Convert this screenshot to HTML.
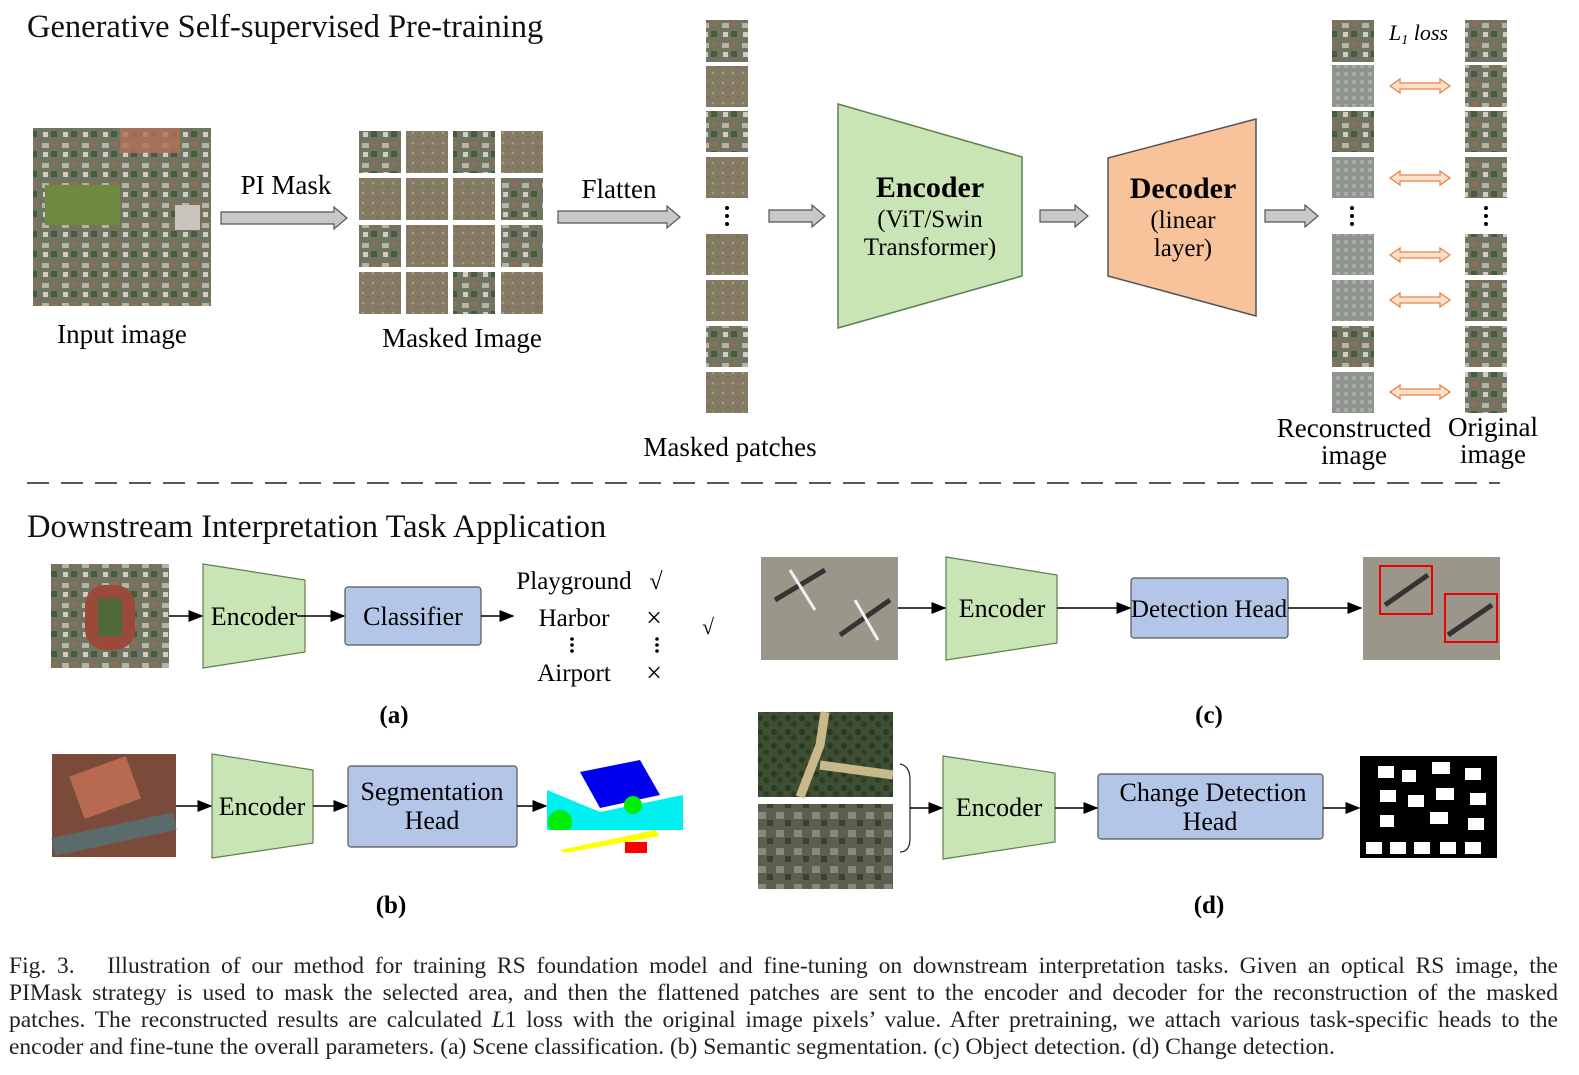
<!DOCTYPE html>
<html><head><meta charset="utf-8">
<style>
html,body{margin:0;padding:0;background:#fff;}
body{width:1579px;height:1075px;position:relative;overflow:hidden;font-family:"Liberation Serif",serif;}
svg{position:absolute;left:0;top:0;}
.cap{position:absolute;left:9px;width:1549px;font-size:23.5px;color:#222;line-height:27px;}
.cap div{text-align:justify;text-align-last:justify;white-space:nowrap;}
.cap div.last{text-align-last:left;}
</style></head><body>
<svg width="1579" height="1075" viewBox="0 0 1579 1075" font-family="Liberation Serif, serif">
<defs>
<marker id="ah" markerWidth="10" markerHeight="8" refX="9" refY="4" orient="auto"><path d="M0,0 L10,4 L0,8 z" fill="#000"/></marker>
<pattern id="urb" width="20" height="20" patternUnits="userSpaceOnUse">
<rect width="20" height="20" fill="#6f7560"/><rect x="2" y="3" width="7" height="5" fill="#b9b3a6"/><rect x="11" y="11" width="6" height="6" fill="#4a5a3e"/><rect x="12" y="2" width="5" height="4" fill="#9a6a50"/><rect x="3" y="12" width="5" height="5" fill="#d0ccc4"/></pattern>
<pattern id="dirt" width="10" height="10" patternUnits="userSpaceOnUse">
<rect width="10" height="10" fill="#857a64"/><circle cx="3" cy="3" r="1.2" fill="#a99d85"/><circle cx="8" cy="7" r="1" fill="#6e6552"/></pattern>
<pattern id="rec" width="8" height="8" patternUnits="userSpaceOnUse">
<rect width="8" height="8" fill="#8f948e"/><rect width="4" height="4" fill="#a7aba6"/></pattern>
<pattern id="forest" width="14" height="14" patternUnits="userSpaceOnUse">
<rect width="14" height="14" fill="#3e4f33"/><circle cx="4" cy="4" r="3" fill="#2a3a22"/><circle cx="10" cy="10" r="3" fill="#2e3f26"/></pattern>
<pattern id="houses" width="18" height="18" patternUnits="userSpaceOnUse">
<rect width="18" height="18" fill="#5a5f4e"/><rect x="2" y="2" width="8" height="7" fill="#8a877c"/><rect x="11" y="10" width="6" height="6" fill="#3a4130"/></pattern>
</defs>

<text x="27" y="37" font-size="32.5" fill="#111">Generative Self-supervised Pre-training</text>

<rect x="33" y="128" width="178" height="178" fill="url(#urb)"/>
<rect x="45" y="185" width="75" height="40" fill="#6d8a3e"/>
<rect x="120" y="128" width="60" height="25" fill="#b07258" opacity="0.8"/>
<rect x="175" y="205" width="25" height="25" fill="#c9c4bb"/>
<text x="122" y="343" font-size="27" text-anchor="middle">Input image</text>

<text x="286" y="194" font-size="27" text-anchor="middle">PI Mask</text>
<polygon points="221,212 334,212 334,207 347,218 334,229 334,224 221,224" fill="#c8c8c8" stroke="#555" stroke-width="1.2"/>

<g>
<rect x="359" y="131" width="42" height="42" fill="url(#urb)"/><rect x="406" y="131" width="42" height="42" fill="url(#dirt)"/><rect x="453" y="131" width="42" height="42" fill="url(#urb)"/><rect x="501" y="131" width="42" height="42" fill="url(#dirt)"/>
<rect x="359" y="178" width="42" height="42" fill="url(#dirt)"/><rect x="406" y="178" width="42" height="42" fill="url(#dirt)"/><rect x="453" y="178" width="42" height="42" fill="url(#dirt)"/><rect x="501" y="178" width="42" height="42" fill="url(#urb)"/>
<rect x="359" y="225" width="42" height="42" fill="url(#urb)"/><rect x="406" y="225" width="42" height="42" fill="url(#dirt)"/><rect x="453" y="225" width="42" height="42" fill="url(#dirt)"/><rect x="501" y="225" width="42" height="42" fill="url(#urb)"/>
<rect x="359" y="272" width="42" height="42" fill="url(#dirt)"/><rect x="406" y="272" width="42" height="42" fill="url(#dirt)"/><rect x="453" y="272" width="42" height="42" fill="url(#urb)"/><rect x="501" y="272" width="42" height="42" fill="url(#dirt)"/>
</g>
<text x="462" y="347" font-size="27" text-anchor="middle">Masked Image</text>

<text x="619" y="198" font-size="27" text-anchor="middle">Flatten</text>
<polygon points="558,211 667,211 667,206 680,217 667,228 667,223 558,223" fill="#c8c8c8" stroke="#555" stroke-width="1.2"/>

<rect x="706" y="20" width="42" height="42" fill="url(#urb)"/>
<rect x="706" y="66" width="42" height="41" fill="url(#dirt)"/>
<rect x="706" y="111" width="42" height="41" fill="url(#urb)"/>
<rect x="706" y="157" width="42" height="41" fill="url(#dirt)"/>
<circle cx="727" cy="208" r="2" fill="#000"/><circle cx="727" cy="216" r="2" fill="#000"/><circle cx="727" cy="224" r="2" fill="#000"/>
<rect x="706" y="234" width="42" height="41" fill="url(#dirt)"/>
<rect x="706" y="280" width="42" height="41" fill="url(#dirt)"/>
<rect x="706" y="326" width="42" height="41" fill="url(#urb)"/>
<rect x="706" y="372" width="42" height="41" fill="url(#dirt)"/>
<text x="730" y="456" font-size="27" text-anchor="middle">Masked patches</text>

<polygon points="769,210 812,210 812,205 825,216 812,227 812,222 769,222" fill="#c8c8c8" stroke="#555" stroke-width="1.2"/>

<polygon points="838,104 1022,157 1022,276 838,328" fill="#c9e4b5" stroke="#5f7f4f" stroke-width="1.5"/>
<text x="930" y="197" font-size="30" font-weight="bold" text-anchor="middle">Encoder</text>
<text x="930" y="227" font-size="25" text-anchor="middle">(ViT/Swin</text>
<text x="930" y="255" font-size="25" text-anchor="middle">Transformer)</text>

<polygon points="1040,210 1075,210 1075,205 1088,216 1075,227 1075,222 1040,222" fill="#c8c8c8" stroke="#555" stroke-width="1.2"/>

<polygon points="1108,158 1256,119 1256,316 1108,276" fill="#f8c29b" stroke="#555" stroke-width="1.5"/>
<text x="1183" y="198" font-size="30" font-weight="bold" text-anchor="middle">Decoder</text>
<text x="1183" y="228" font-size="25" text-anchor="middle">(linear</text>
<text x="1183" y="256" font-size="25" text-anchor="middle">layer)</text>

<polygon points="1265,210 1305,210 1305,205 1318,216 1305,227 1305,222 1265,222" fill="#c8c8c8" stroke="#555" stroke-width="1.2"/>

<g>
<rect x="1332" y="20" width="42" height="42" fill="url(#urb)"/><rect x="1332" y="65" width="42" height="42" fill="url(#rec)"/>
<rect x="1332" y="111" width="42" height="41" fill="url(#urb)"/><rect x="1332" y="157" width="42" height="41" fill="url(#rec)"/>
<rect x="1332" y="234" width="42" height="41" fill="url(#rec)"/><rect x="1332" y="280" width="42" height="41" fill="url(#rec)"/>
<rect x="1332" y="326" width="42" height="41" fill="url(#urb)"/><rect x="1332" y="372" width="42" height="41" fill="url(#rec)"/>
<circle cx="1352" cy="208" r="2" fill="#000"/><circle cx="1352" cy="216" r="2" fill="#000"/><circle cx="1352" cy="224" r="2" fill="#000"/>
<rect x="1465" y="20" width="42" height="42" fill="url(#urb)"/><rect x="1465" y="65" width="42" height="42" fill="url(#urb)"/>
<rect x="1465" y="111" width="42" height="41" fill="url(#urb)"/><rect x="1465" y="157" width="42" height="41" fill="url(#urb)"/>
<rect x="1465" y="234" width="42" height="41" fill="url(#urb)"/><rect x="1465" y="280" width="42" height="41" fill="url(#urb)"/>
<rect x="1465" y="326" width="42" height="41" fill="url(#urb)"/><rect x="1465" y="372" width="42" height="41" fill="url(#urb)"/>
<circle cx="1486" cy="208" r="2" fill="#000"/><circle cx="1486" cy="216" r="2" fill="#000"/><circle cx="1486" cy="224" r="2" fill="#000"/>
</g>
<text x="1389" y="40" font-size="22" font-style="italic">L<tspan font-size="14" dy="4">1</tspan><tspan dy="-4"> loss</tspan></text>
<g fill="#fde1c8" stroke="#e8834a" stroke-width="1.3">
<polygon points="1390,86 1400,79 1400,83 1440,83 1440,79 1450,86 1440,93 1440,89 1400,89 1400,93"/>
<polygon points="1390,178 1400,171 1400,175 1440,175 1440,171 1450,178 1440,185 1440,181 1400,181 1400,185"/>
<polygon points="1390,255 1400,248 1400,252 1440,252 1440,248 1450,255 1440,262 1440,258 1400,258 1400,262"/>
<polygon points="1390,300 1400,293 1400,297 1440,297 1440,293 1450,300 1440,307 1440,303 1400,303 1400,307"/>
<polygon points="1390,392 1400,385 1400,389 1440,389 1440,385 1450,392 1440,399 1440,395 1400,395 1400,399"/>
</g>
<text x="1354" y="437" font-size="27" text-anchor="middle">Reconstructed</text>
<text x="1354" y="464" font-size="27" text-anchor="middle">image</text>
<text x="1493" y="436" font-size="27" text-anchor="middle">Original</text>
<text x="1493" y="463" font-size="27" text-anchor="middle">image</text>

<line x1="27" y1="483" x2="1500" y2="483" stroke="#222" stroke-width="1.5" stroke-dasharray="22,12"/>

<text x="27" y="537" font-size="32.5" fill="#111">Downstream Interpretation Task Application</text>

<!-- (a) -->
<rect x="51" y="564" width="118" height="104" fill="url(#urb)"/>
<rect x="85" y="585" width="50" height="65" rx="20" fill="#9b4a3a"/><rect x="98" y="598" width="24" height="38" fill="#4f6a38"/>
<line x1="169" y1="616" x2="202" y2="616" stroke="#000" stroke-width="1.5" marker-end="url(#ah)"/>
<polygon points="203,564 305,580 305,652 203,668" fill="#c9e4b5" stroke="#5f7f4f" stroke-width="1.2"/>
<text x="254" y="625" font-size="26" text-anchor="middle">Encoder</text>
<line x1="297" y1="616" x2="344" y2="616" stroke="#000" stroke-width="1.5" marker-end="url(#ah)"/>
<rect x="345" y="587" width="136" height="58" rx="3" fill="#b4c6e7" stroke="#555" stroke-width="1.2"/>
<text x="413" y="625" font-size="26" text-anchor="middle">Classifier</text>
<line x1="481" y1="616" x2="513" y2="616" stroke="#000" stroke-width="1.5" marker-end="url(#ah)"/>
<text x="574" y="589" font-size="25" text-anchor="middle">Playground</text>
<text x="656" y="589" font-size="24" text-anchor="middle">√</text>
<text x="574" y="626" font-size="25" text-anchor="middle">Harbor</text>
<text x="654" y="627" font-size="28" text-anchor="middle">×</text>
<circle cx="572" cy="639" r="1.8"/><circle cx="572" cy="645" r="1.8"/><circle cx="572" cy="651" r="1.8"/>
<circle cx="657" cy="639" r="1.8"/><circle cx="657" cy="645" r="1.8"/><circle cx="657" cy="651" r="1.8"/>
<text x="574" y="681" font-size="25" text-anchor="middle">Airport</text>
<text x="654" y="682" font-size="28" text-anchor="middle">×</text>
<text x="708" y="634" font-size="22" text-anchor="middle">√</text>
<text x="394" y="723" font-size="25" font-weight="bold" text-anchor="middle">(a)</text>

<!-- (b) -->
<rect x="52" y="754" width="124" height="103" fill="#7a4a3a"/>
<rect x="75" y="765" width="60" height="45" fill="#b86a50" transform="rotate(-20 105 787)"/>
<rect x="52" y="825" width="124" height="18" fill="#5b6a6a" transform="rotate(-12 114 834)"/>
<line x1="176" y1="806" x2="211" y2="806" stroke="#000" stroke-width="1.5" marker-end="url(#ah)"/>
<polygon points="212,754 313,770 313,843 212,858" fill="#c9e4b5" stroke="#5f7f4f" stroke-width="1.2"/>
<text x="262" y="815" font-size="26" text-anchor="middle">Encoder</text>
<line x1="313" y1="806" x2="347" y2="806" stroke="#000" stroke-width="1.5" marker-end="url(#ah)"/>
<rect x="348" y="766" width="169" height="81" rx="3" fill="#b4c6e7" stroke="#555" stroke-width="1.2"/>
<text x="432" y="800" font-size="26" text-anchor="middle">Segmentation</text>
<text x="432" y="829" font-size="26" text-anchor="middle">Head</text>
<line x1="517" y1="806" x2="546" y2="806" stroke="#000" stroke-width="1.5" marker-end="url(#ah)"/>
<rect x="547" y="760" width="136" height="93" fill="#00f0f0"/>
<polygon points="575,760 683,760 683,795 600,812 547,790 547,760" fill="#fff"/>
<polygon points="580,772 640,760 660,795 600,808" fill="#0000ee"/>
<circle cx="560" cy="822" r="12" fill="#00ee00"/><circle cx="633" cy="805" r="9" fill="#00ee00"/>
<rect x="547" y="830" width="136" height="23" fill="#fff"/>
<polygon points="560,850 655,830 660,836 565,853" fill="#ffff00"/>
<rect x="625" y="842" width="22" height="11" fill="#ff0000"/>
<text x="391" y="913" font-size="25" font-weight="bold" text-anchor="middle">(b)</text>

<!-- (c) -->
<rect x="761" y="557" width="137" height="103" fill="#9a978a"/>
<g stroke="#333" stroke-width="5"><line x1="775" y1="600" x2="825" y2="570"/><line x1="840" y1="635" x2="890" y2="600"/></g>
<g stroke="#f0f0f0" stroke-width="3"><line x1="790" y1="570" x2="815" y2="610"/><line x1="855" y1="600" x2="878" y2="640"/></g>
<line x1="898" y1="608" x2="945" y2="608" stroke="#000" stroke-width="1.5" marker-end="url(#ah)"/>
<polygon points="946,557 1057,575 1057,643 946,660" fill="#c9e4b5" stroke="#5f7f4f" stroke-width="1.2"/>
<text x="1002" y="617" font-size="26" text-anchor="middle">Encoder</text>
<line x1="1057" y1="608" x2="1130" y2="608" stroke="#000" stroke-width="1.5" marker-end="url(#ah)"/>
<rect x="1131" y="578" width="157" height="60" rx="3" fill="#b4c6e7" stroke="#555" stroke-width="1.2"/>
<text x="1209" y="617" font-size="25" text-anchor="middle">Detection Head</text>
<line x1="1288" y1="608" x2="1361" y2="608" stroke="#000" stroke-width="1.5" marker-end="url(#ah)"/>
<rect x="1363" y="557" width="137" height="103" fill="#9a978a"/>
<g stroke="#333" stroke-width="5"><line x1="1385" y1="605" x2="1428" y2="575"/><line x1="1448" y1="635" x2="1492" y2="605"/></g>
<rect x="1380" y="566" width="52" height="48" fill="none" stroke="#e00" stroke-width="2"/>
<rect x="1445" y="594" width="52" height="48" fill="none" stroke="#e00" stroke-width="2"/>
<text x="1209" y="723" font-size="25" font-weight="bold" text-anchor="middle">(c)</text>

<!-- (d) -->
<rect x="758" y="712" width="135" height="85" fill="url(#forest)"/>
<path d="M800,797 L820,745 L825,712 M820,765 L893,775" stroke="#c9b98a" stroke-width="9" fill="none"/>
<rect x="758" y="804" width="135" height="85" fill="url(#houses)"/>
<path d="M900,764 Q910,766 910,780 L910,838 Q910,852 900,852" fill="none" stroke="#222" stroke-width="1.2"/>
<line x1="910" y1="808" x2="942" y2="808" stroke="#000" stroke-width="1.5" marker-end="url(#ah)"/>
<polygon points="943,756 1055,773 1055,842 943,859" fill="#c9e4b5" stroke="#5f7f4f" stroke-width="1.2"/>
<text x="999" y="816" font-size="26" text-anchor="middle">Encoder</text>
<line x1="1055" y1="808" x2="1097" y2="808" stroke="#000" stroke-width="1.5" marker-end="url(#ah)"/>
<rect x="1098" y="774" width="225" height="65" rx="3" fill="#b4c6e7" stroke="#555" stroke-width="1.2"/>
<text x="1213" y="801" font-size="26" text-anchor="middle">Change Detection</text>
<text x="1210" y="830" font-size="26" text-anchor="middle">Head</text>
<line x1="1323" y1="808" x2="1359" y2="808" stroke="#000" stroke-width="1.5" marker-end="url(#ah)"/>
<rect x="1360" y="756" width="137" height="102" fill="#000"/>
<g fill="#fff">
<rect x="1378" y="766" width="16" height="12"/><rect x="1402" y="770" width="14" height="12"/><rect x="1432" y="762" width="18" height="12"/><rect x="1465" y="768" width="16" height="12"/>
<rect x="1380" y="790" width="16" height="12"/><rect x="1408" y="795" width="16" height="12"/><rect x="1436" y="788" width="18" height="12"/><rect x="1470" y="793" width="16" height="12"/>
<rect x="1380" y="815" width="14" height="12"/><rect x="1430" y="812" width="18" height="12"/><rect x="1468" y="818" width="16" height="12"/>
<rect x="1366" y="842" width="16" height="12"/><rect x="1390" y="842" width="16" height="12"/><rect x="1414" y="842" width="16" height="12"/><rect x="1440" y="842" width="16" height="12"/><rect x="1465" y="842" width="16" height="12"/>
</g>
<text x="1209" y="913" font-size="25" font-weight="bold" text-anchor="middle">(d)</text>
</svg>

<div class="cap" style="top:953px;">
<div>Fig. 3.&nbsp;&nbsp;&nbsp;Illustration of our method for training RS foundation model and fine-tuning on downstream interpretation tasks. Given an optical RS image, the</div>
<div>PIMask strategy is used to mask the selected area, and then the flattened patches are sent to the encoder and decoder for the reconstruction of the masked</div>
<div>patches. The reconstructed results are calculated <i>L</i>1 loss with the original image pixels’ value. After pretraining, we attach various task-specific heads to the</div>
<div class="last">encoder and fine-tune the overall parameters. (a) Scene classification. (b) Semantic segmentation. (c) Object detection. (d) Change detection.</div>
</div>
</body></html>
